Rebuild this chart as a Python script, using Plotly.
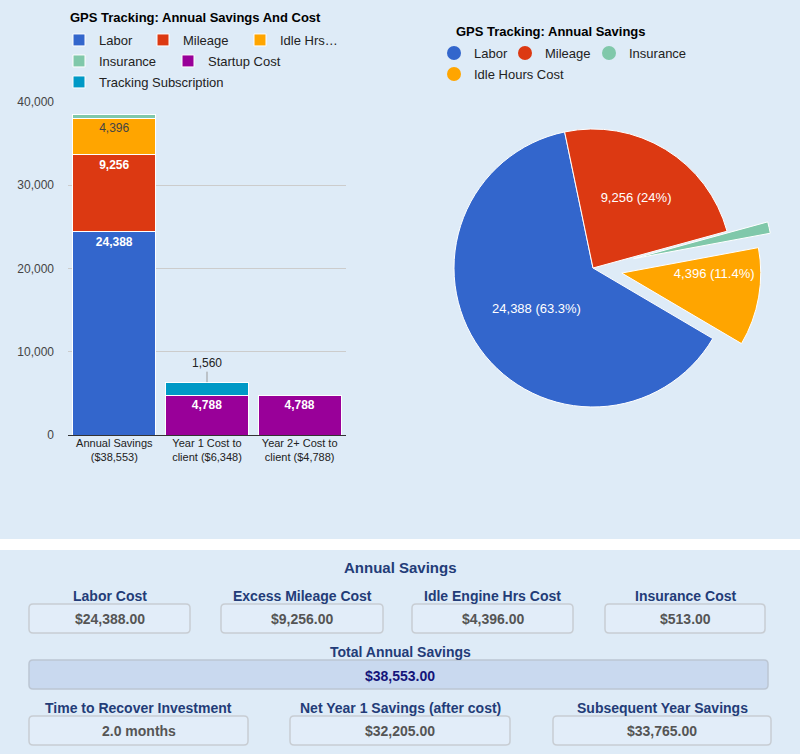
import plotly.graph_objects as go

# stacked bar chart data
categories = ["Annual Savings<br>($38,553)", "Year 1 Cost to<br>client ($6,348)", "Year 2+ Cost to<br>client ($4,788)"]
labor = [24388, None, None]
mileage = [9256, None, None]
idle_hrs = [4396, None, None]
insurance = [513, None, None]
startup_cost = [None, 4788, 4788]
tracking_sub = [None, 1560, None]

# pie chart data
pie_labels = ["Labor", "Mileage", "Insurance", "Idle Hours Cost"]
pie_values = [24388, 9256, 513, 4396]

# summary panel
row1_labels = ["Labor Cost", "Excess Mileage Cost", "Idle Engine Hrs Cost", "Insurance Cost"]
row1_values = ["$24,388.00", "$9,256.00", "$4,396.00", "$513.00"]
total_label = "Total Annual Savings"
total_value = "$38,553.00"
row3_labels = ["Time to Recover Investment", "Net Year 1 Savings (after cost)", "Subsequent Year Savings"]
row3_values = ["2.0 months", "$32,205.00", "$33,765.00"]

W, H = 800, 754
FONT = "Arial, Liberation Sans, sans-serif"
BG = "#deebf7"
NAVY = "#233c78"


# pixel -> paper helpers (margins are zero)
def px(x):
  return x / W


def py(y):
  return 1 - y / H


fig = go.Figure()

# bars, bottom to top
bar_series = [
  ("Labor", labor, "#3366cc", "legend", 39),
  ("Mileage", mileage, "#dc3912", "legend", 52),
  ("Idle Hrs…", idle_hrs, "#ffa500", "legend", 60),
  ("Insurance", insurance, "#80c8aa", "legend2", 64),
  ("Startup Cost", startup_cost, "#990099", "legend2", 80),
  ("Tracking Subscription", tracking_sub, "#0099c6", "legend3", 140),
]
for name, vals, color, leg, lw in bar_series:
  show_text = name in ("Labor", "Mileage", "Idle Hrs…", "Startup Cost")
  if name == "Idle Hrs…":
    tfont = dict(color="#444", size=12, family=FONT)
  else:
    tfont = dict(color="white", size=12, family=FONT, weight="bold")
  fig.add_trace(go.Bar(
    x=categories, y=vals, name=name,
    marker=dict(color=color, line=dict(color="white", width=1)),
    texttemplate="%{y:,}" if show_text else None,
    textposition="inside" if show_text else "none",
    insidetextanchor="end", textangle=0, textfont=tfont,
    legend=leg, legendwidth=lw,
  ))

# label for the small subscription segment, with leader line
fig.add_annotation(
  x=categories[1], y=startup_cost[1] + tracking_sub[1], xref="x", yref="y",
  text=f"{tracking_sub[1]:,}", showarrow=True, arrowhead=0, arrowwidth=1,
  arrowcolor="#999", ax=0, ay=-19, font=dict(size=12, color="#222", family=FONT),
)

# pie
pie_colors = ["#3366cc", "#dc3912", "#80c8aa", "#ffa500"]
pie_text = ["%{value:,} (%{percent})", "%{value:,} (%{percent})", "", "%{value:,} (%{percent})"]
fig.add_trace(go.Pie(
  labels=pie_labels, values=pie_values, sort=False, direction="clockwise",
  rotation=120.5, pull=[0, 0, 0.3, 0.21],
  marker=dict(colors=pie_colors, line=dict(color="white", width=1)),
  texttemplate=pie_text, textposition="inside", insidetextorientation="horizontal",
  textfont=dict(color="white", size=13, family=FONT),
  domain=dict(x=[px(412.3), px(773.7)], y=[py(448.7), py(87.3)]),
  showlegend=False,
))

# circle legend for the pie
pie_leg = ["legend4", "legend4", "legend4", "legend5"]
pie_lw = [26, 39, 70, 100]
for lab, col, leg, lw in zip(pie_labels, pie_colors, pie_leg, pie_lw):
  fig.add_trace(go.Scatter(
    x=[None], y=[None], mode="markers", name=lab,
    marker=dict(symbol="circle", size=14, color=col),
    legend=leg, legendwidth=lw, hoverinfo="skip",
  ))

legend_style = dict(orientation="h", xanchor="left", yanchor="middle", traceorder="normal",
                    bgcolor="rgba(0,0,0,0)", borderwidth=0,
                    font=dict(size=13, color="#222", family=FONT))

fig.update_layout(
  width=W, height=H,
  margin=dict(l=0, r=0, t=0, b=0, autoexpand=False),
  paper_bgcolor=BG, plot_bgcolor=BG,
  barmode="stack", bargap=0.105,
  font=dict(family=FONT),
  xaxis=dict(domain=[px(68), px(346)], anchor="y", showgrid=False, showline=False,
             ticks="", tickfont=dict(size=11, color="#222"), fixedrange=True),
  yaxis=dict(domain=[py(435), py(102)], range=[0, 40000], dtick=10000, tickformat=",",
             gridcolor="#cccccc", zeroline=True, zerolinecolor="#333", zerolinewidth=1,
             showline=False, ticks="", ticklabelstandoff=13,
             tickfont=dict(size=12, color="#444"), fixedrange=True),
  legend=dict(x=px(59), y=py(40), **legend_style),
  legend2=dict(x=px(59), y=py(61), **legend_style),
  legend3=dict(x=px(59), y=py(82), **legend_style),
  legend4=dict(x=px(434), y=py(53), **legend_style),
  legend5=dict(x=px(434), y=py(74), **legend_style),
  showlegend=True,
)

# chart titles
fig.add_annotation(x=px(68), y=py(18), xref="paper", yref="paper", xanchor="left", yanchor="middle",
                   text="<b>GPS Tracking: Annual Savings And Cost</b>", showarrow=False,
                   font=dict(size=13, color="#000", family=FONT))
fig.add_annotation(x=px(454), y=py(32), xref="paper", yref="paper", xanchor="left", yanchor="middle",
                   text="<b>GPS Tracking: Annual Savings</b>", showarrow=False,
                   font=dict(size=13, color="#000", family=FONT))


# summary panel below the charts
def rounded_box(x0, y0, x1, y1, fill, line, r=4):
  pts = [
    ("M", x0 + r, y0), ("L", x1 - r, y0), ("Q", x1, y0, x1, y0 + r),
    ("L", x1, y1 - r), ("Q", x1, y1, x1 - r, y1), ("L", x0 + r, y1),
    ("Q", x0, y1, x0, y1 - r), ("L", x0, y0 + r), ("Q", x0, y0, x0 + r, y0),
  ]
  parts = []
  for p in pts:
    cmd, coords = p[0], p[1:]
    xy = []
    for i in range(0, len(coords), 2):
      xy.append(f"{px(coords[i]):.5f},{py(coords[i + 1]):.5f}")
    parts.append(cmd + " " + " ".join(xy))
  fig.add_shape(type="path", path=" ".join(parts) + " Z", xref="paper", yref="paper",
                fillcolor=fill, line=dict(color=line, width=1.5), layer="above")


def panel_text(x, y, txt, size, color):
  fig.add_annotation(x=px(x), y=py(y), xref="paper", yref="paper", text="<b>" + txt + "</b>",
                     xanchor="center", yanchor="middle", showarrow=False,
                     font=dict(size=size, color=color, family=FONT))


# white separator band
fig.add_shape(type="rect", xref="paper", yref="paper", x0=0, x1=1, y0=py(550), y1=py(539),
              fillcolor="white", line=dict(width=0), layer="above")

panel_text(400, 567, "Annual Savings", 15, NAVY)

row1_boxes = [(29, 190), (221, 383), (412, 573), (605, 765)]
for (x0, x1), lab, val in zip(row1_boxes, row1_labels, row1_values):
  rounded_box(x0, 604, x1, 633, "#e2edf9", "#c8cdd3")
  panel_text((x0 + x1) / 2, 596, lab, 14, NAVY)
  panel_text((x0 + x1) / 2, 619, val, 14, "#555")

rounded_box(29, 660, 768, 689, "#c9d9ef", "#bcc6d3")
panel_text(400, 652, total_label, 14, NAVY)
panel_text(400, 676, total_value, 14, "#14147a")

row3_boxes = [(29, 248), (290, 510), (553, 771)]
for (x0, x1), lab, val in zip(row3_boxes, row3_labels, row3_values):
  rounded_box(x0, 716, x1, 745, "#e2edf9", "#c8cdd3")
  panel_text((x0 + x1) / 2, 708, lab, 14, NAVY)
  panel_text((x0 + x1) / 2, 731, val, 14, "#555")

# pin the figure to the top-left corner of the page
pin_js = ("var d = document.getElementById('{plot_id}');"
          "d.style.position = 'fixed'; d.style.top = '0px'; d.style.left = '0px';"
          "document.body.style.margin = '0'; document.body.style.overflow = 'hidden';")
fig.write_html("out.html", config={"displayModeBar": False}, post_script=pin_js)
